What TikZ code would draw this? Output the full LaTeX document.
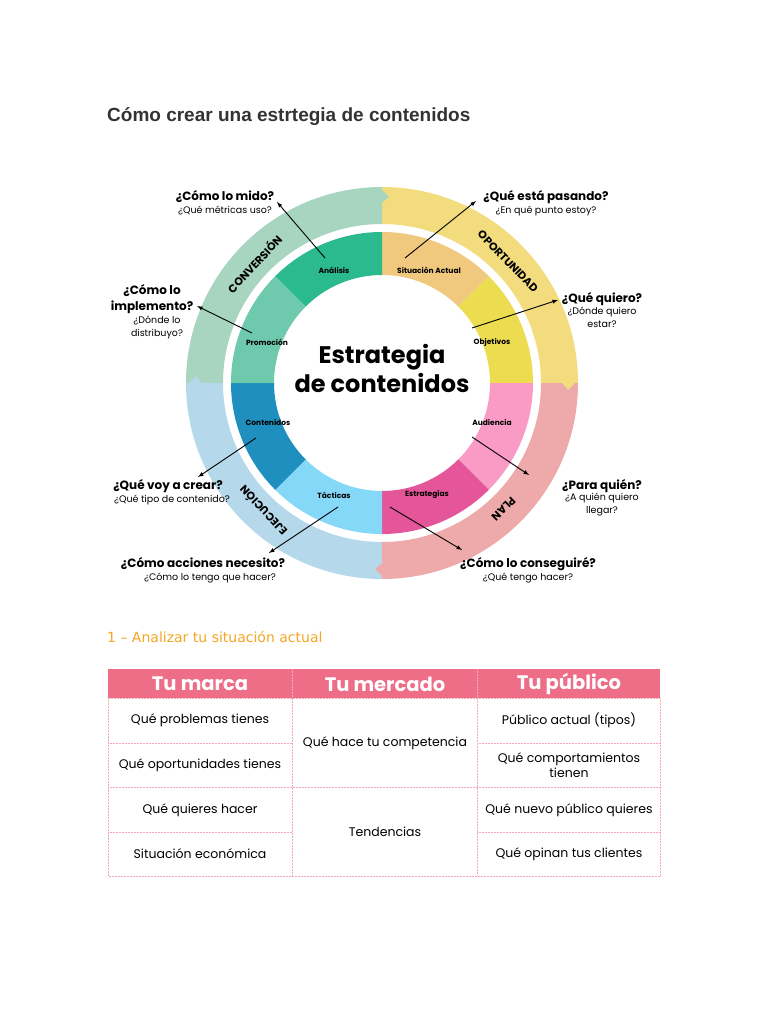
\documentclass[tikz,border=0pt]{standalone}
\usepackage{fontspec}
\setmainfont{Poppins}
\newfontfamily\titlefont{Liberation Sans}
\newfontfamily\subfont{DejaVu Sans}
\usetikzlibrary{calc}
\definecolor{cSit}{HTML}{F0C97F}\definecolor{cObj}{HTML}{ECDC4F}
\definecolor{cAud}{HTML}{F99BC4}\definecolor{cEst}{HTML}{E4559A}
\definecolor{cTac}{HTML}{85D8F7}\definecolor{cCon}{HTML}{1E8FBF}
\definecolor{cPro}{HTML}{6EC9AD}\definecolor{cAna}{HTML}{2BB98E}
\definecolor{oY}{HTML}{F2DC7E}\definecolor{oP}{HTML}{EEAAAA}
\definecolor{oB}{HTML}{B5D9EA}\definecolor{oG}{HTML}{A8D5BF}
\definecolor{hdr}{HTML}{EE6E87}\definecolor{orng}{HTML}{F5A623}
\tikzset{
 q/.style={font=\fontsize{12}{14}\selectfont\bfseries, inner sep=0pt, align=center},
 qs/.style={font=\fontsize{9.5}{13}\selectfont, inner sep=0pt, align=center},
 seg/.style={font=\fontsize{7.5}{9}\selectfont\bfseries, inner sep=0pt},
 ring/.style={font=\fontsize{11}{13}\selectfont\bfseries, inner sep=0pt},
 arr/.style={-latex, line width=0.9pt},
 cell/.style={font=\fontsize{12.5}{15}\selectfont, inner sep=0pt, align=center},
 head/.style={font=\fontsize{19.5}{21}\selectfont\bfseries, text=white, inner sep=0pt},
 grid/.style={hdr!60, densely dotted, line width=0.5pt}
}
\begin{document}
\begin{tikzpicture}[x=1pt,y=-1pt]
\useasboundingbox[fill=white] (0,0) rectangle (768,1024);
\node[anchor=west, font=\titlefont\fontsize{19}{22}\selectfont\bfseries, text=black!80, inner sep=0pt] (title) at (107,117) {Cómo crear una estrtegia de contenidos};
\begin{scope}[shift={(382,383)}]
 \def\ringseg#1#2#3#4#5{\fill[#1] (#2:#4) arc[start angle=#2, end angle=#3, radius=#4] -- (#3:#5) arc[start angle=#3, end angle=#2, radius=#5] -- cycle;}
 \ringseg{oY}{0}{90}{196pt}{159pt}
 \ringseg{oG}{90}{180}{196pt}{159pt}
 \ringseg{oB}{180}{270}{196pt}{159pt}
 \ringseg{oP}{270}{360}{196pt}{159pt}
 \fill[oG] (-3pt,196pt) -- (7pt,186pt) -- (-3pt,178pt) -- cycle;
 \fill[oB] (-196pt,-3pt) -- (-186pt,7pt) -- (-178pt,-3pt) -- cycle;
 \fill[oP] (3pt,-196pt) -- (-7pt,-186pt) -- (3pt,-178pt) -- cycle;
 \fill[oY] (196pt,3pt) -- (186pt,-7pt) -- (178pt,3pt) -- cycle;
 \ringseg{cSit}{45}{90}{151pt}{108pt}
 \ringseg{cObj}{0}{45}{151pt}{108pt}
 \ringseg{cAud}{-45}{0}{151pt}{108pt}
 \ringseg{cEst}{-90}{-45}{151pt}{108pt}
 \ringseg{cTac}{-135}{-90}{151pt}{108pt}
 \ringseg{cCon}{-180}{-135}{151pt}{108pt}
 \ringseg{cPro}{135}{180}{151pt}{108pt}
 \ringseg{cAna}{90}{135}{151pt}{108pt}
 \node[ring, rotate=47] (rconv) at (137:175pt) {CONVERSIÓN};
 \node[ring, rotate=-46] (ropo) at (44:175pt) {OPORTUNIDAD};
 \node[ring, rotate=224] (rplan) at (-46:175pt) {PLAN};
 \node[ring, rotate=133] (reje) at (-133:175pt) {EJECUCIÓN};
\end{scope}
\node[font=\fontsize{24}{29}\selectfont\bfseries, align=center, inner sep=0pt] (center) at (382,368) {Estrategia\\de contenidos};
% segment labels
\node[seg] (ana) at (334,270) {Análisis};
\node[seg] (sit) at (429,270) {Situación Actual};
\node[seg] (obj) at (492,342) {Objetivos};
\node[seg] (pro) at (267,342) {Promoción};
\node[seg] (aud) at (492,423) {Audiencia};
\node[seg] (con) at (268,423) {Contenidos};
\node[seg] (tac) at (334,495) {Tácticas};
\node[seg] (est) at (427,495) {Estrategias};
% questions
\node[q] (q1) at (225,197) {¿Cómo lo mido?};
\node[qs, anchor=north] (s1) at (225,206) {¿Qué métricas uso?};
\node[q] (q2) at (546,197) {¿Qué está pasando?};
\node[qs, anchor=north] (s2) at (546,206) {¿En qué punto estoy?};
\node[q] (q3) at (602,299) {¿Qué quiero?};
\node[qs, anchor=north] (s3) at (602,307) {¿Dónde quiero\\estar?};
\node[q, font=\fontsize{12}{16}\selectfont\bfseries] (q4) at (152,299) {¿Cómo lo\\implemento?};
\node[qs, anchor=north] (s4) at (157,316) {¿Dónde lo\\distribuyo?};
\node[q] (q5) at (602,486) {¿Para quién?};
\node[qs, anchor=north] (s5) at (602,493) {¿A quién quiero\\llegar?};
\node[q] (q6) at (168,486) {¿Qué voy a crear?};
\node[qs, anchor=north] (s6) at (172,495) {¿Qué tipo de contenido?};
\node[q] (q7) at (203,564) {¿Cómo acciones necesito?};
\node[qs, anchor=north] (s7) at (210,573) {¿Cómo lo tengo que hacer?};
\node[q] (q8) at (528,564) {¿Cómo lo conseguiré?};
\node[qs, anchor=north] (s8) at (528,573) {¿Qué tengo hacer?};
% arrows
\coordinate (a1) at (325,258); \coordinate (b1) at (277,202);
\coordinate (a2) at (405,258); \coordinate (b2) at (476,201);
\coordinate (a3) at (472,328); \coordinate (b3) at (558,300);
\coordinate (a4) at (252,333); \coordinate (b4) at (197,306);
\coordinate (a5) at (472,437); \coordinate (b5) at (529,475);
\coordinate (a6) at (256,438); \coordinate (b6) at (198,477);
\coordinate (a7) at (338,507); \coordinate (b7) at (269,553);
\coordinate (a8) at (390,507); \coordinate (b8) at (462,550);
\foreach \i in {1,...,8} \draw[arr] (a\i) -- (b\i);
% section heading
\node[anchor=west, font=\subfont\fontsize{14}{16}\selectfont, text=orng, inner sep=0pt] (h1) at (107,637) {1 – Analizar tu situación actual};
% table
\fill[hdr] (108,669) rectangle (660,698);
\draw[grid] (108,698) rectangle (660,876);
\draw[grid] (292,669) -- (292,876); \draw[grid] (477,669) -- (477,876);
\draw[grid] (108,743) -- (292,743); \draw[grid] (477,743) -- (660,743);
\draw[grid] (108,787) -- (660,787);
\draw[grid] (108,832) -- (292,832); \draw[grid] (477,832) -- (660,832);
\node[head] (t1) at (200,684) {Tu marca};
\node[head] (t2) at (385,684) {Tu mercado};
\node[head] (t3) at (569,684) {Tu público};
\node[cell] (c11) at (200,720) {Qué problemas tienes};
\node[cell] (c12) at (200,765) {Qué oportunidades tienes};
\node[cell] (c13) at (200,810) {Qué quieres hacer};
\node[cell] (c14) at (200,854) {Situación económica};
\node[cell] (c21) at (385,743) {Qué hace tu competencia};
\node[cell] (c22) at (385,832) {Tendencias};
\node[cell] (c31) at (569,720) {Público actual (tipos)};
\node[cell] (c32) at (569,765) {Qué comportamientos\\tienen};
\node[cell] (c33) at (569,810) {Qué nuevo público quieres};
\node[cell] (c34) at (569,854) {Qué opinan tus clientes};
\end{tikzpicture}
\end{document}
